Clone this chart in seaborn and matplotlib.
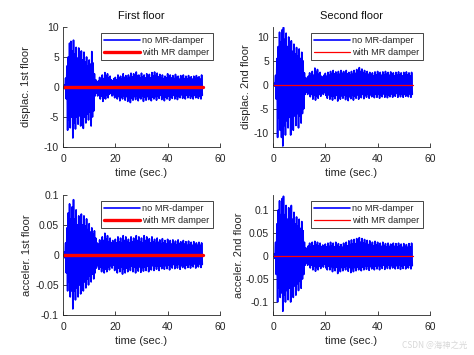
import numpy as np
import matplotlib
matplotlib.use("Agg")
import matplotlib.pyplot as plt
import seaborn as sns

# peak values: upper peaks at t = 0.5, 1.0, ... ; lower peaks at t = 0.75, 1.25, ...
disp1_upper = [0.3, 1.5, 3.5, 5.0, 7.3, 7.6, 6.0, 7.8, 5.5, 6.6,
               4.8, 6.5, 5.2, 6.0, 4.5, 5.8, 4.2, 5.0, 3.5, 4.5,
               3.8, 5.9, 4.0, 2.2, 1.2, 0.8, 1.0, 1.6, 1.2, 2.0,
               1.4, 2.4, 1.8, 2.2, 1.5, 1.8, 1.2, 1.0, 1.4, 1.6,
               1.2, 2.0, 1.5, 1.8, 1.3, 2.2, 1.6, 1.9, 1.4, 2.0,
               1.6, 2.3, 1.7, 2.2, 1.8, 2.5, 1.9, 2.0, 1.5, 2.3,
               1.7, 2.0, 1.5, 2.2, 1.6, 2.1, 1.5, 2.4, 1.8, 2.5,
               1.9, 2.3, 1.7, 2.1, 1.5, 2.0, 1.4, 1.8, 1.5, 2.2,
               1.6, 2.0, 1.5, 1.9, 1.4, 2.1, 1.6, 1.8, 1.3, 1.9,
               1.5, 2.0, 1.4, 1.8, 1.3, 1.9, 1.5, 1.7, 1.3, 1.8,
               1.4, 1.9, 1.5, 1.7, 1.3, 2.0, 1.5]
disp1_lower = [-0.3, -2.0, -7.2, -5.5, -6.8, -5.0, -8.5, -6.0, -7.0, -5.0,
               -6.2, -4.8, -6.5, -5.2, -6.9, -5.0, -6.0, -4.5, -5.5, -4.2,
               -6.5, -5.0, -4.0, -1.5, -1.0, -1.5, -1.2, -2.0, -1.5, -2.4,
               -1.8, -2.0, -1.4, -1.8, -1.2, -1.0, -1.5, -1.3, -1.8, -1.4,
               -2.0, -1.6, -2.3, -1.7, -2.0, -1.5, -2.2, -1.6, -2.4, -1.8,
               -2.6, -1.9, -2.2, -1.6, -2.1, -1.5, -2.3, -1.8, -2.0, -1.5,
               -2.4, -1.7, -2.2, -1.6, -2.1, -1.5, -2.3, -1.7, -2.0, -1.6,
               -2.2, -1.5, -1.9, -1.4, -2.1, -1.6, -2.3, -1.7, -2.0, -1.5,
               -2.2, -1.6, -1.9, -1.4, -2.0, -1.5, -2.1, -1.6, -1.8, -1.3,
               -1.9, -1.5, -2.0, -1.4, -1.8, -1.3, -1.9, -1.5, -2.0, -1.4,
               -1.8, -1.3, -1.9, -1.5, -2.0, -1.4]

disp2_upper = [0.3, 2.0, 5.5, 8.0, 11.0, 9.0, 11.5, 12.0, 9.5, 10.8,
               8.0, 10.0, 7.5, 9.2, 7.0, 8.5, 6.5, 7.8, 6.0, 7.5,
               5.5, 6.8, 5.0, 2.5, 1.5, 1.2, 1.8, 2.5, 1.8, 2.8,
               2.0, 3.5, 2.6, 3.2, 2.2, 2.6, 1.8, 1.6, 2.0, 2.4,
               1.8, 2.6, 2.0, 2.8, 2.2, 3.0, 2.3, 2.7, 2.1, 2.8,
               2.2, 3.0, 2.4, 2.8, 2.2, 3.0, 2.3, 2.6, 2.0, 2.8,
               2.2, 3.0, 2.4, 3.2, 2.6, 3.6, 2.8, 3.3, 2.5, 3.0,
               2.3, 2.8, 2.2, 2.6, 2.0, 2.5, 1.9, 2.7, 2.1, 2.8,
               2.2, 2.6, 2.0, 2.7, 2.1, 2.8, 2.2, 2.6, 2.0, 2.7,
               2.1, 2.5, 1.9, 2.6, 2.0, 2.7, 2.1, 2.5, 1.9, 2.6,
               2.0, 2.7, 2.1, 2.5, 1.9, 2.6, 2.0]
disp2_lower = [-0.3, -3.0, -11.0, -7.0, -9.5, -11.0, -12.8, -8.5, -10.5, -7.5,
               -9.0, -6.8, -10.5, -7.0, -9.5, -6.5, -8.5, -6.0, -9.0, -6.5,
               -8.0, -6.0, -5.0, -2.0, -1.5, -2.0, -1.6, -2.5, -2.0, -3.0,
               -2.2, -3.2, -2.4, -2.8, -2.0, -2.4, -1.8, -2.0, -1.6, -2.2,
               -2.8, -2.1, -3.0, -2.3, -3.2, -2.4, -2.9, -2.2, -3.4, -2.5,
               -3.0, -2.3, -2.8, -2.1, -3.1, -2.4, -3.3, -2.5, -2.9, -2.2,
               -3.2, -2.4, -2.8, -2.1, -3.0, -2.3, -2.7, -2.0, -2.9, -2.2,
               -2.6, -2.0, -2.8, -2.1, -2.5, -1.9, -2.7, -2.0, -2.6, -2.0,
               -2.8, -2.1, -2.5, -1.9, -2.6, -2.0, -2.7, -2.1, -2.5, -1.9,
               -2.6, -2.0, -2.4, -1.8, -2.6, -2.0, -2.5, -1.9, -2.6, -2.0,
               -2.4, -1.8, -2.5, -1.9, -2.6, -2.0]

acc1_upper = [0.005, 0.02, 0.045, 0.07, 0.085, 0.06, 0.08, 0.092, 0.06, 0.075,
              0.05, 0.065, 0.055, 0.068, 0.05, 0.065, 0.048, 0.06, 0.042, 0.052,
              0.038, 0.045, 0.035, 0.04, 0.028, 0.02, 0.018, 0.025, 0.02, 0.03,
              0.024, 0.036, 0.026, 0.032, 0.022, 0.028, 0.02, 0.024, 0.018, 0.026,
              0.02, 0.03, 0.022, 0.028, 0.02, 0.032, 0.024, 0.03, 0.022, 0.026,
              0.02, 0.03, 0.022, 0.028, 0.021, 0.032, 0.024, 0.03, 0.022, 0.028,
              0.02, 0.032, 0.024, 0.03, 0.022, 0.027, 0.02, 0.03, 0.022, 0.026,
              0.019, 0.028, 0.021, 0.025, 0.018, 0.027, 0.02, 0.024, 0.018, 0.026,
              0.02, 0.024, 0.018, 0.025, 0.019, 0.023, 0.017, 0.025, 0.019, 0.022,
              0.017, 0.024, 0.018, 0.022, 0.016, 0.023, 0.017, 0.021, 0.016, 0.022,
              0.017, 0.02, 0.016, 0.021, 0.016, 0.02, 0.017]
acc1_lower = [-0.005, -0.03, -0.06, -0.045, -0.07, -0.06, -0.09, -0.06, -0.075, -0.055,
              -0.07, -0.05, -0.065, -0.05, -0.06, -0.045, -0.055, -0.04, -0.05, -0.035,
              -0.045, -0.032, -0.04, -0.03, -0.022, -0.018, -0.024, -0.02, -0.028, -0.022,
              -0.03, -0.024, -0.028, -0.02, -0.025, -0.018, -0.022, -0.017, -0.026, -0.02,
              -0.03, -0.022, -0.028, -0.02, -0.032, -0.024, -0.03, -0.022, -0.028, -0.02,
              -0.026, -0.019, -0.028, -0.02, -0.03, -0.022, -0.027, -0.02, -0.029, -0.021,
              -0.027, -0.02, -0.026, -0.019, -0.028, -0.02, -0.025, -0.018, -0.026, -0.019,
              -0.024, -0.018, -0.026, -0.019, -0.023, -0.017, -0.024, -0.018, -0.023, -0.017,
              -0.025, -0.018, -0.022, -0.016, -0.023, -0.017, -0.022, -0.016, -0.024, -0.018,
              -0.021, -0.016, -0.023, -0.017, -0.021, -0.016, -0.022, -0.017, -0.02, -0.015,
              -0.022, -0.016, -0.02, -0.015, -0.021, -0.016]

acc2_upper = [0.005, 0.03, 0.07, 0.1, 0.12, 0.09, 0.125, 0.13, 0.09, 0.11,
              0.08, 0.105, 0.085, 0.11, 0.08, 0.095, 0.07, 0.085, 0.065, 0.08,
              0.06, 0.075, 0.055, 0.03, 0.018, 0.015, 0.022, 0.028, 0.02, 0.03,
              0.022, 0.032, 0.024, 0.03, 0.022, 0.028, 0.02, 0.024, 0.018, 0.026,
              0.02, 0.028, 0.021, 0.03, 0.022, 0.028, 0.02, 0.03, 0.022, 0.027,
              0.02, 0.025, 0.019, 0.028, 0.021, 0.03, 0.022, 0.033, 0.025, 0.035,
              0.026, 0.036, 0.027, 0.038, 0.028, 0.04, 0.03, 0.038, 0.028, 0.036,
              0.027, 0.034, 0.025, 0.033, 0.024, 0.03, 0.022, 0.032, 0.024, 0.03,
              0.022, 0.028, 0.021, 0.03, 0.022, 0.027, 0.02, 0.028, 0.021, 0.026,
              0.019, 0.028, 0.021, 0.027, 0.02, 0.028, 0.021, 0.026, 0.019, 0.027,
              0.02, 0.025, 0.019, 0.027, 0.02, 0.028, 0.021]
acc2_lower = [-0.005, -0.04, -0.1, -0.07, -0.09, -0.08, -0.12, -0.085, -0.1, -0.075,
              -0.095, -0.07, -0.1, -0.075, -0.09, -0.065, -0.085, -0.06, -0.075, -0.055,
              -0.07, -0.05, -0.04, -0.02, -0.015, -0.02, -0.018, -0.026, -0.02, -0.03,
              -0.022, -0.033, -0.025, -0.03, -0.022, -0.027, -0.02, -0.024, -0.018, -0.026,
              -0.03, -0.022, -0.03, -0.023, -0.034, -0.025, -0.032, -0.024, -0.038, -0.028,
              -0.034, -0.025, -0.032, -0.024, -0.03, -0.022, -0.033, -0.025, -0.036, -0.027,
              -0.034, -0.025, -0.032, -0.024, -0.03, -0.023, -0.032, -0.024, -0.03, -0.022,
              -0.029, -0.022, -0.031, -0.023, -0.028, -0.021, -0.03, -0.022, -0.028, -0.021,
              -0.03, -0.022, -0.027, -0.02, -0.029, -0.022, -0.027, -0.02, -0.028, -0.021,
              -0.026, -0.02, -0.028, -0.021, -0.027, -0.02, -0.029, -0.022, -0.027, -0.02,
              -0.028, -0.021, -0.026, -0.02, -0.028, -0.021]

# with MR damper: practically flat at zero
damped_t = [0, 10, 20, 30, 40, 53.5]
damped_disp1 = [0, 0, 0, 0, 0, 0]
damped_disp2 = [0, 0, 0, 0, 0, 0]
damped_acc1 = [0, 0, 0, 0, 0, 0]
damped_acc2 = [0, 0, 0, 0, 0, 0]


def peaks_to_series(upper, lower):
    n = min(len(upper), len(lower))
    t_up = 0.5 * (np.arange(n) + 1)
    t_lo = t_up + 0.25
    t = np.empty(2 * n)
    y = np.empty(2 * n)
    t[0::2], t[1::2] = t_up, t_lo
    y[0::2], y[1::2] = upper[:n], lower[:n]
    return t, y


sns.set_theme(style="white")
plt.rcParams['font.family'] = ['Liberation Sans', 'DejaVu Sans']
plt.rcParams['axes.unicode_minus'] = False

fig = plt.figure(figsize=(4.74, 3.55), dpi=100)

panels = [
    # (rect, upper, lower, damped, ylabel, ylim, yticks, ticklabels, title, red width, ylabel pad)
    ([0.133, 0.586, 0.331, 0.338], disp1_upper, disp1_lower, damped_disp1,
     'displac. 1st floor', (-10, 10), [-10, -5, 0, 5, 10],
     ['-10', '-5', '0', '5', '10'], 'First floor', 2.4, 9),
    ([0.576, 0.586, 0.331, 0.338], disp2_upper, disp2_lower, damped_disp2,
     'displac. 2nd floor', (-13, 12.1), [-10, -5, 0, 5, 10],
     ['-10', '-5', '0', '5', '10'], 'Second floor', 0.9, 2),
    ([0.133, 0.113, 0.331, 0.338], acc1_upper, acc1_lower, damped_acc1,
     'acceler. 1st floor', (-0.1, 0.1), [-0.1, -0.05, 0, 0.05, 0.1],
     ['-0.1', '-0.05', '0', '0.05', '0.1'], None, 2.4, 2),
    ([0.576, 0.113, 0.331, 0.338], acc2_upper, acc2_lower, damped_acc2,
     'acceler. 2nd floor', (-0.128, 0.133), [-0.1, -0.05, 0, 0.05, 0.1],
     ['-0.1', '-0.05', '0', '0.05', '0.1'], None, 0.9, 1),
]

for rect, up, lo, damp, ylab, ylim, yt, ytl, title, red_lw, ypad in panels:
    ax = fig.add_axes(rect)
    t, y = peaks_to_series(up, lo)
    sns.lineplot(x=t, y=y, ax=ax, color='#0000ff', linewidth=1.2,
                 label='no MR-damper', sort=False, estimator=None)
    sns.lineplot(x=damped_t, y=damp, ax=ax, color='#ff0000', linewidth=red_lw,
                 label='with MR damper', estimator=None)
    ax.set_xlim(0, 60)
    ax.set_ylim(*ylim)
    ax.set_xticks([0, 20, 40, 60])
    ax.set_xticklabels(['0', '20', '40', '60'])
    ax.set_yticks(yt)
    ax.set_yticklabels(ytl)
    ax.tick_params(direction='in', length=3, width=0.6, labelsize=7.5,
                   colors='#262626', bottom=True, left=True)
    ax.tick_params(axis='x', pad=5)
    ax.tick_params(axis='y', pad=3)
    for s in ['top', 'right']:
        ax.spines[s].set_visible(False)
    for s in ['left', 'bottom']:
        ax.spines[s].set_color('#262626')
        ax.spines[s].set_linewidth(0.6)
    ax.set_xlabel('time (sec.)', fontsize=8, color='#262626', labelpad=3)
    ax.set_ylabel(ylab, fontsize=8, color='#262626', labelpad=ypad)
    if title:
        ax.set_title(title, fontsize=8, color='#111111', pad=6)
    leg = ax.legend(loc='upper right', bbox_to_anchor=(0.955, 0.95), fontsize=6.7,
                    handlelength=3.8, handletextpad=0.3, borderpad=0.35,
                    labelspacing=0.3, fancybox=False, framealpha=1,
                    edgecolor='#262626', borderaxespad=0)
    leg.get_frame().set_linewidth(0.6)

fig.text(0.985, 0.015, 'CSDN @海神之光', ha='right', va='bottom', fontsize=6,
         color='#d8d8d8', family=['Noto Sans CJK SC', 'DejaVu Sans'])

fig.savefig('out.png', dpi=100)
